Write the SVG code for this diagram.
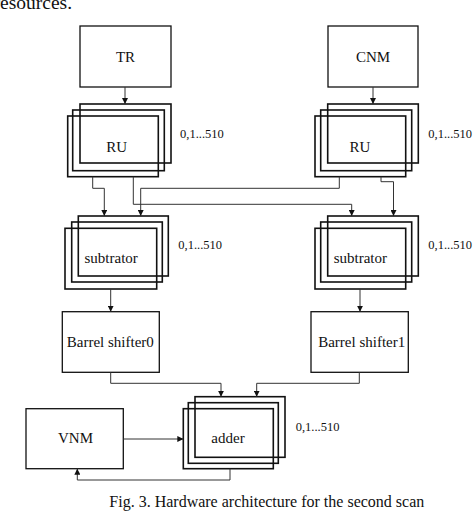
<svg xmlns="http://www.w3.org/2000/svg" width="474" height="512" viewBox="0 0 474 512">
<defs>
<marker id="ah" viewBox="0 0 10 10" refX="10" refY="5" markerWidth="6" markerHeight="6" markerUnits="userSpaceOnUse" orient="auto">
<path d="M0,0 L10,5 L0,10 z" fill="#111"/>
</marker>
<style>
.box{fill:none;stroke:#111;stroke-width:1.3}
.stk{fill:none;stroke:#111;stroke-width:1.6}
.ln{fill:none;stroke:#333;stroke-width:1}
.arr{fill:none;stroke:#333;stroke-width:1;marker-end:url(#ah)}
text{font-family:"Liberation Serif","Times New Roman",serif;fill:#111}
.t{font-size:15px;text-anchor:middle}
.lb{font-size:12.5px}
</style>
</defs>
<rect width="474" height="512" fill="#fff"/>
<text x="-6.5" y="8.5" style="font-size:19.5px">resources.</text>

<g id="TR"><rect class="box" x="80" y="26" width="91" height="61"/><text class="t" x="125.5" y="61.7">TR</text></g>
<g id="CNM"><rect class="box" x="328" y="26" width="90" height="61"/><text class="t" x="373" y="61.7">CNM</text></g>

<g id="RU0">
<rect class="stk" x="80" y="104" width="91" height="59"/>
<rect class="stk" x="72.7" y="110" width="91.6" height="60.7"/>
<rect class="stk" x="67.7" y="116" width="90.6" height="60.7"/>
<text class="t" x="116.7" y="151.7">RU</text>
<text class="lb" x="180" y="137.7">0,1...510</text>
</g>
<g id="RU1">
<rect class="stk" x="327.7" y="104" width="90.6" height="59"/>
<rect class="stk" x="320.7" y="110" width="91" height="60.7"/>
<rect class="stk" x="315" y="116" width="90.7" height="60.7"/>
<text class="t" x="360" y="151.7">RU</text>
<text class="lb" x="428.3" y="137.7">0,1...510</text>
</g>

<g id="SUB0">
<rect class="stk" x="78.3" y="216" width="90" height="60"/>
<rect class="stk" x="71.7" y="222" width="90.6" height="60"/>
<rect class="stk" x="65" y="228.3" width="91.7" height="60.7"/>
<text class="t" x="111.2" y="263">subtrator</text>
<text class="lb" x="178.3" y="249.3">0,1...510</text>
</g>
<g id="SUB1">
<rect class="stk" x="327.7" y="216" width="90.6" height="60"/>
<rect class="stk" x="320.7" y="222" width="91" height="60"/>
<rect class="stk" x="315" y="228.3" width="90.7" height="60.7"/>
<text class="t" x="360.3" y="263">subtrator</text>
<text class="lb" x="428.3" y="249.3">0,1...510</text>
</g>

<g id="BS0"><rect class="box" x="62.3" y="311.7" width="97" height="60.6"/><text class="t" x="110.3" y="347.3">Barrel shifter0</text></g>
<g id="BS1"><rect class="box" x="311" y="311.7" width="97.3" height="60.6"/><text class="t" x="361.7" y="347.3">Barrel shifter1</text></g>

<g id="ADDER">
<rect class="stk" x="195" y="396.7" width="90" height="60.6"/>
<rect class="stk" x="188.3" y="402.7" width="90" height="60.6"/>
<rect class="stk" x="183.3" y="408.7" width="90" height="60"/>
<text class="t" x="228" y="443.3">adder</text>
<text class="lb" x="295.7" y="430.7">0,1...510</text>
</g>
<g id="VNM"><rect class="box" x="26" y="408.7" width="97.3" height="60"/><text class="t" x="75.5" y="443.3">VNM</text></g>

<g id="connectors">
<path class="arr" d="M125,87 V104"/>
<path class="arr" d="M373,87 V104"/>
<path class="arr" d="M92.7,176.7 V188.3 H104.3 V216"/>
<path class="arr" d="M133.3,176.7 V204.3 H351.7 V216"/>
<path class="arr" d="M339.3,176.7 V188.3 H140.7 V216"/>
<path class="arr" d="M381,176.7 V181.7 H393.5 V216"/>
<path class="arr" d="M110.7,289 V311.7"/>
<path class="arr" d="M360,289 V311.7"/>
<path class="arr" d="M110.7,372.3 V383.3 H221 V396.7"/>
<path class="arr" d="M359.3,372.3 V383.3 H256.7 V396.7"/>
<path class="arr" d="M123.3,439 H183.3"/>
<path class="arr" d="M230,468.7 V480 H77.3 V468.7"/>
</g>

<text x="109.3" y="507.3" style="font-size:16px">Fig. 3. Hardware architecture for the second scan</text>
</svg>
